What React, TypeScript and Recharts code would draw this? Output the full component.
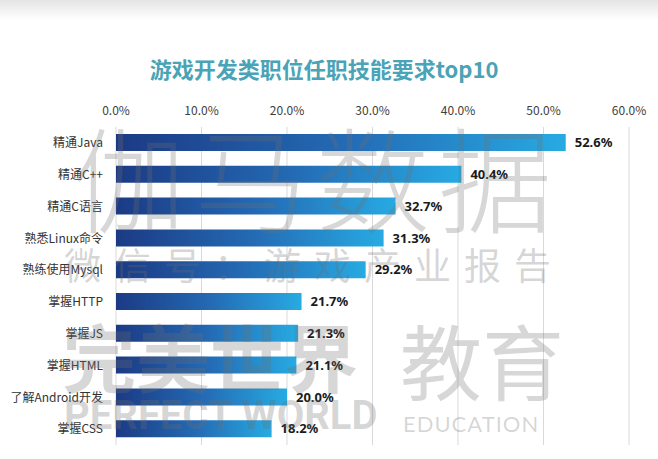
import React from "react"
import { Bar, BarChart, CartesianGrid, LabelList, XAxis, YAxis } from "recharts"

// skills ranked by share of game-dev job postings
const skills = [
  "精通Java",
  "精通C++",
  "精通C语言",
  "熟悉Linux命令",
  "熟练使用Mysql",
  "掌握HTTP",
  "掌握JS",
  "掌握HTML",
  "了解Android开发",
  "掌握CSS",
]
const shares = [52.6, 40.4, 32.7, 31.3, 29.2, 21.7, 21.3, 21.1, 20.0, 18.2]
const xTicks = [0, 10, 20, 30, 40, 50, 60]

const data = skills.map((name, i) => ({ name, value: shares[i] }))

const cjk = '"Noto Sans CJK SC", "Noto Sans", sans-serif'
const mark = "rgba(110,110,110,0.28)"

function Watermark() {
  const base: React.CSSProperties = {
    position: "absolute",
    color: mark,
    fontFamily: cjk,
    whiteSpace: "nowrap",
    lineHeight: 1,
    pointerEvents: "none",
  }
  return (
    <div style={{ position: "absolute", inset: 0, pointerEvents: "none" }}>
      <div style={{ ...base, left: 72, top: 118, fontSize: 114, fontWeight: 300, letterSpacing: 8 }}>伽马数据</div>
      <div style={{ ...base, left: 64, top: 246, fontSize: 37, letterSpacing: 13 }}>微信号：游戏产业报告</div>
      <div style={{ ...base, left: 62, top: 318, fontSize: 74, fontWeight: 700 }}>完美世界</div>
      <div style={{ ...base, left: 64, top: 396, fontSize: 40, fontWeight: 700, fontFamily: "Roboto, sans-serif" }}>
        PERFECT WORLD
      </div>
      <div style={{ ...base, left: 400, top: 318, fontSize: 82 }}>教育</div>
      <div style={{ ...base, left: 403, top: 413, fontSize: 22, letterSpacing: 1, fontFamily: "Lato, sans-serif" }}>
        EDUCATION
      </div>
    </div>
  )
}

export default function App() {
  return (
    <div style={{ position: "absolute", left: 0, top: 0, width: 658, height: 459, background: "#fff", overflow: "hidden" }}>
      <div
        style={{
          position: "absolute",
          left: 0,
          top: 0,
          width: 658,
          height: 20,
          background: "linear-gradient(#e4e4e4, #ffffff)",
        }}
      />
      <div
        style={{
          position: "absolute",
          left: -5,
          top: 53,
          width: 658,
          textAlign: "center",
          fontFamily: cjk,
          fontSize: 22,
          fontWeight: 700,
          color: "#4aa3b6",
          lineHeight: "30px",
        }}
      >
        游戏开发类职位任职技能要求top10
      </div>
      <BarChart
        width={658}
        height={459}
        data={data}
        layout="vertical"
        margin={{ top: 97, right: 29, bottom: 14, left: 0 }}
      >
        <defs>
          <linearGradient id="barFill" x1="0" y1="0" x2="1" y2="0">
            <stop offset="0%" stopColor="#1c3a84" />
            <stop offset="50%" stopColor="#2469b3" />
            <stop offset="100%" stopColor="#27aae2" />
          </linearGradient>
        </defs>
        <CartesianGrid horizontal={false} stroke="#d9d9d9" />
        <XAxis
          type="number"
          orientation="top"
          domain={[0, 60]}
          ticks={xTicks}
          tickFormatter={(v) => `${v.toFixed(1)}%`}
          tickLine={false}
          axisLine={false}
          tickMargin={6}
          tick={{ fontSize: 12, fill: "#404040", fontFamily: cjk }}
        />
        <YAxis
          type="category"
          dataKey="name"
          width={116}
          tickLine={false}
          axisLine={false}
          tickMargin={7}
          interval={0}
          tick={{ fontSize: 12, fill: "#333", fontFamily: cjk }}
        />
        <Bar dataKey="value" fill="url(#barFill)" barSize={17} isAnimationActive={false}>
          <LabelList
            dataKey="value"
            position="right"
            offset={9}
            formatter={(v: number) => `${v.toFixed(1)}%`}
            style={{ fontSize: 13, fontWeight: 700, fill: "#1a1a1a", fontFamily: '"Noto Sans", sans-serif' }}
          />
        </Bar>
      </BarChart>
      <Watermark />
    </div>
  )
}
